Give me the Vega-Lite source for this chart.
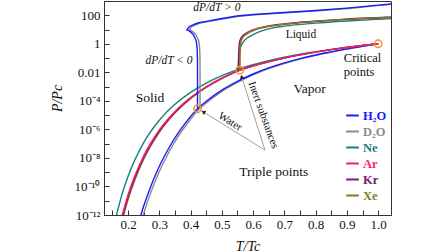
{
  "$schema": "https://vega.github.io/schema/vega-lite/v6.json",
  "width": 287,
  "height": 214,
  "autosize": {"type": "none"},
  "padding": {"left": 104, "top": 1, "right": 57, "bottom": 37},
  "background": "white",
  "config": {
    "font": "Liberation Serif, Times New Roman, serif",
    "view": {"stroke": "#333", "strokeWidth": 1},
    "axis": {"labelFont": "Liberation Serif, Times New Roman, serif", "titleFont": "Liberation Serif, Times New Roman, serif", "labelFontSize": 13, "titleFontSize": 14, "titleFontWeight": "normal", "labelColor": "#111", "titleColor": "#111", "domainColor": "#333", "tickColor": "#333", "grid": false, "labelOverlap": false, "labelBound": false, "labelFlush": false},
    "text": {"font": "Liberation Serif, Times New Roman, serif"}
  },
  "datasets": {
    "sv": [
      {"s":"D₂O","T":0.243,"P":4.03e-13},{"s":"D₂O","T":0.26,"P":6.15e-12},{"s":"D₂O","T":0.28,"P":9.95e-11},{"s":"D₂O","T":0.3,"P":1.11e-9},{"s":"D₂O","T":0.33,"P":2.39e-8},{"s":"D₂O","T":0.36,"P":3.08e-7},{"s":"D₂O","T":0.39,"P":2.69e-6},{"s":"D₂O","T":0.4302,"P":3.05e-5},{"s":"D₂O","T":0.45,"P":7.08e-5},{"s":"D₂O","T":0.5,"P":4.68e-4},{"s":"D₂O","T":0.55,"P":2.0e-3},{"s":"D₂O","T":0.6,"P":6.76e-3},{"s":"D₂O","T":0.65,"P":0.0182},{"s":"D₂O","T":0.7,"P":0.0417},{"s":"D₂O","T":0.75,"P":0.0851},{"s":"D₂O","T":0.8,"P":0.157},{"s":"D₂O","T":0.85,"P":0.266},{"s":"D₂O","T":0.9,"P":0.427},{"s":"D₂O","T":0.95,"P":0.656},{"s":"D₂O","T":1.0,"P":1},
      {"s":"H₂O","T":0.236,"P":4.31e-13},{"s":"H₂O","T":0.25,"P":4.23e-12},{"s":"H₂O","T":0.27,"P":7.31e-11},{"s":"H₂O","T":0.3,"P":2.59e-9},{"s":"H₂O","T":0.33,"P":4.78e-8},{"s":"H₂O","T":0.36,"P":5.43e-7},{"s":"H₂O","T":0.39,"P":4.25e-6},{"s":"H₂O","T":0.4221,"P":2.77e-5},{"s":"H₂O","T":0.45,"P":9.33e-5},{"s":"H₂O","T":0.5,"P":5.71e-4},{"s":"H₂O","T":0.55,"P":2.37e-3},{"s":"H₂O","T":0.6,"P":7.66e-3},{"s":"H₂O","T":0.65,"P":0.0203},{"s":"H₂O","T":0.7,"P":0.0455},{"s":"H₂O","T":0.75,"P":0.0906},{"s":"H₂O","T":0.8,"P":0.164},{"s":"H₂O","T":0.85,"P":0.272},{"s":"H₂O","T":0.9,"P":0.437},{"s":"H₂O","T":0.95,"P":0.663},{"s":"H₂O","T":1.0,"P":1},
      {"s":"Ne","T":0.16,"P":5.36e-13},{"s":"Ne","T":0.18,"P":2.5e-11},{"s":"Ne","T":0.2,"P":5.2e-10},{"s":"Ne","T":0.25,"P":1.2e-7},{"s":"Ne","T":0.3,"P":4.4e-6},{"s":"Ne","T":0.35,"P":5.7e-5},{"s":"Ne","T":0.4,"P":3.9e-4},{"s":"Ne","T":0.45,"P":1.75e-3},{"s":"Ne","T":0.5,"P":5.8e-3},{"s":"Ne","T":0.552,"P":0.0162},{"s":"Ne","T":0.6,"P":0.0338},{"s":"Ne","T":0.65,"P":0.0649},{"s":"Ne","T":0.7,"P":0.1135},{"s":"Ne","T":0.75,"P":0.184},{"s":"Ne","T":0.8,"P":0.281},{"s":"Ne","T":0.85,"P":0.408},{"s":"Ne","T":0.9,"P":0.569},{"s":"Ne","T":0.95,"P":0.766},{"s":"Ne","T":1.0,"P":1},
      {"s":"Xe","T":0.183,"P":5.78e-13},{"s":"Xe","T":0.2,"P":1.19e-11},{"s":"Xe","T":0.25,"P":8.07e-9},{"s":"Xe","T":0.3,"P":6.21e-7},{"s":"Xe","T":0.35,"P":1.38e-5},{"s":"Xe","T":0.4,"P":1.42e-4},{"s":"Xe","T":0.45,"P":8.67e-4},{"s":"Xe","T":0.5,"P":3.69e-3},{"s":"Xe","T":0.557,"P":0.014},{"s":"Xe","T":0.6,"P":0.0279},{"s":"Xe","T":0.65,"P":0.0556},{"s":"Xe","T":0.7,"P":0.1},{"s":"Xe","T":0.75,"P":0.167},{"s":"Xe","T":0.8,"P":0.261},{"s":"Xe","T":0.85,"P":0.388},{"s":"Xe","T":0.9,"P":0.551},{"s":"Xe","T":0.95,"P":0.753},{"s":"Xe","T":1.0,"P":1},
      {"s":"Kr","T":0.18,"P":5.09e-13},{"s":"Kr","T":0.2,"P":1.78e-11},{"s":"Kr","T":0.25,"P":1.07e-8},{"s":"Kr","T":0.3,"P":7.66e-7},{"s":"Kr","T":0.35,"P":1.61e-5},{"s":"Kr","T":0.4,"P":1.59e-4},{"s":"Kr","T":0.45,"P":9.4e-4},{"s":"Kr","T":0.5,"P":3.9e-3},{"s":"Kr","T":0.553,"P":0.0133},{"s":"Kr","T":0.6,"P":0.0284},{"s":"Kr","T":0.65,"P":0.0562},{"s":"Kr","T":0.7,"P":0.101},{"s":"Kr","T":0.75,"P":0.168},{"s":"Kr","T":0.8,"P":0.263},{"s":"Kr","T":0.85,"P":0.389},{"s":"Kr","T":0.9,"P":0.552},{"s":"Kr","T":0.95,"P":0.755},{"s":"Kr","T":1.0,"P":1},
      {"s":"Ar","T":0.178,"P":5.58e-13},{"s":"Ar","T":0.2,"P":2.69e-11},{"s":"Ar","T":0.25,"P":1.42e-8},{"s":"Ar","T":0.3,"P":9.25e-7},{"s":"Ar","T":0.35,"P":1.83e-5},{"s":"Ar","T":0.4,"P":1.71e-4},{"s":"Ar","T":0.45,"P":9.77e-4},{"s":"Ar","T":0.5,"P":3.94e-3},{"s":"Ar","T":0.557,"P":0.0142},{"s":"Ar","T":0.6,"P":0.0282},{"s":"Ar","T":0.65,"P":0.0561},{"s":"Ar","T":0.7,"P":0.101},{"s":"Ar","T":0.75,"P":0.168},{"s":"Ar","T":0.8,"P":0.262},{"s":"Ar","T":0.85,"P":0.389},{"s":"Ar","T":0.9,"P":0.552},{"s":"Ar","T":0.95,"P":0.755},{"s":"Ar","T":1.0,"P":1}
    ],
    "mw": [
      {"s":"D₂O","i":0,"T":0.4302,"P":3.05e-5},{"s":"D₂O","i":1,"T":0.4302,"P":0.01},{"s":"D₂O","i":2,"T":0.43,"P":0.1},{"s":"D₂O","i":3,"T":0.4289,"P":0.5},{"s":"D₂O","i":4,"T":0.4263,"P":1.5},{"s":"D₂O","i":5,"T":0.4232,"P":2.27},{"s":"D₂O","i":6,"T":0.4162,"P":4.53},{"s":"D₂O","i":7,"T":0.4079,"P":6.8},{"s":"D₂O","i":8,"T":0.399,"P":9.06},{"s":"D₂O","i":9,"T":0.3957,"P":9.6},{"s":"D₂O","i":10,"T":0.4035,"P":15.9},{"s":"D₂O","i":11,"T":0.417,"P":21.7},{"s":"D₂O","i":12,"T":0.43,"P":28.7},{"s":"D₂O","i":13,"T":0.456,"P":35.5},{"s":"D₂O","i":14,"T":0.506,"P":56},{"s":"D₂O","i":15,"T":0.555,"P":85},{"s":"D₂O","i":16,"T":0.606,"P":107},{"s":"D₂O","i":17,"T":0.706,"P":148},{"s":"D₂O","i":18,"T":0.806,"P":204},{"s":"D₂O","i":19,"T":0.906,"P":301},{"s":"D₂O","i":20,"T":1.006,"P":490},{"s":"D₂O","i":21,"T":1.05,"P":600},
      {"s":"H₂O","i":0,"T":0.4221,"P":2.77e-5},{"s":"H₂O","i":1,"T":0.4221,"P":0.01},{"s":"H₂O","i":2,"T":0.4219,"P":0.1},{"s":"H₂O","i":3,"T":0.4208,"P":0.5},{"s":"H₂O","i":4,"T":0.4183,"P":1.5},{"s":"H₂O","i":5,"T":0.4152,"P":2.27},{"s":"H₂O","i":6,"T":0.4083,"P":4.53},{"s":"H₂O","i":7,"T":0.4001,"P":6.8},{"s":"H₂O","i":8,"T":0.3913,"P":9.06},{"s":"H₂O","i":9,"T":0.3881,"P":9.51},{"s":"H₂O","i":10,"T":0.3959,"P":15.87},{"s":"H₂O","i":11,"T":0.4095,"P":21.7},{"s":"H₂O","i":12,"T":0.4224,"P":28.7},{"s":"H₂O","i":13,"T":0.45,"P":37.2},{"s":"H₂O","i":14,"T":0.5,"P":58.9},{"s":"H₂O","i":15,"T":0.5486,"P":89.1},{"s":"H₂O","i":16,"T":0.6,"P":112},{"s":"H₂O","i":17,"T":0.7,"P":155},{"s":"H₂O","i":18,"T":0.8,"P":214},{"s":"H₂O","i":19,"T":0.9,"P":316},{"s":"H₂O","i":20,"T":1.0,"P":513},{"s":"H₂O","i":21,"T":1.045,"P":631}
    ],
    "mn": [
      {"s":"Ne","T":0.552,"P":0.0162},{"s":"Ne","T":0.554,"P":0.126},{"s":"Ne","T":0.558,"P":0.447},{"s":"Ne","T":0.565,"P":1.0},{"s":"Ne","T":0.575,"P":2.0},{"s":"Ne","T":0.59,"P":3.31},{"s":"Ne","T":0.61,"P":5.62},{"s":"Ne","T":0.63,"P":8.32},{"s":"Ne","T":0.66,"P":12.6},{"s":"Ne","T":0.7,"P":17.4},{"s":"Ne","T":0.8,"P":28.2},{"s":"Ne","T":0.9,"P":39.8},{"s":"Ne","T":1.0,"P":52.5},{"s":"Ne","T":1.045,"P":58.9},
      {"s":"Ar","T":0.557,"P":0.0142},{"s":"Ar","T":0.5575,"P":0.126},{"s":"Ar","T":0.5585,"P":0.501},{"s":"Ar","T":0.561,"P":1.41},{"s":"Ar","T":0.567,"P":2.82},{"s":"Ar","T":0.58,"P":5.01},{"s":"Ar","T":0.6,"P":8.51},{"s":"Ar","T":0.62,"P":12.0},{"s":"Ar","T":0.65,"P":16.6},{"s":"Ar","T":0.7,"P":23.4},{"s":"Ar","T":0.8,"P":36.3},{"s":"Ar","T":0.9,"P":51.3},{"s":"Ar","T":1.0,"P":64.6},{"s":"Ar","T":1.045,"P":70.8},
      {"s":"Kr","T":0.553,"P":0.0133},{"s":"Kr","T":0.5535,"P":0.13},{"s":"Kr","T":0.5545,"P":0.52},{"s":"Kr","T":0.557,"P":1.48},{"s":"Kr","T":0.563,"P":2.95},{"s":"Kr","T":0.576,"P":5.25},{"s":"Kr","T":0.596,"P":8.9},{"s":"Kr","T":0.616,"P":12.6},{"s":"Kr","T":0.646,"P":17.4},{"s":"Kr","T":0.696,"P":24.5},{"s":"Kr","T":0.796,"P":38},{"s":"Kr","T":0.896,"P":53.7},{"s":"Kr","T":0.996,"P":67.6},{"s":"Kr","T":1.045,"P":75},
      {"s":"Xe","T":0.557,"P":0.014},{"s":"Xe","T":0.5575,"P":0.13},{"s":"Xe","T":0.5585,"P":0.51},{"s":"Xe","T":0.561,"P":1.45},{"s":"Xe","T":0.567,"P":2.9},{"s":"Xe","T":0.58,"P":5.15},{"s":"Xe","T":0.6,"P":8.7},{"s":"Xe","T":0.62,"P":12.3},{"s":"Xe","T":0.65,"P":17},{"s":"Xe","T":0.7,"P":24},{"s":"Xe","T":0.8,"P":37.2},{"s":"Xe","T":0.9,"P":52.5},{"s":"Xe","T":1.0,"P":66},{"s":"Xe","T":1.045,"P":72.5}
    ]
  },
  "encoding": {
    "x": {"field": "T", "type": "quantitative", "scale": {"domain": [0.123, 1.041], "nice": false, "zero": false},
      "axis": {"title": "T/Tc", "titleFontStyle": "italic", "values": [0.15,0.2,0.25,0.3,0.35,0.4,0.45,0.5,0.55,0.6,0.65,0.7,0.75,0.8,0.85,0.9,0.95,1.0],
        "labelExpr": "abs(datum.value*10-round(datum.value*10))<0.001 ? format(datum.value,'.1f') : ''", "tickSize": -5, "labelPadding": 8, "titlePadding": 8}},
    "y": {"field": "P", "type": "quantitative", "scale": {"type": "log", "domain": [1e-12, 1000], "nice": false},
      "axis": {"title": "P/Pc", "titleFontStyle": "italic", "values": [1e-12,1e-11,1e-10,1e-9,1e-8,1e-7,1e-6,1e-5,1e-4,1e-3,0.01,0.1,1,10,100,1000],
        "labelExpr": "['10⁻¹²','','10⁻¹⁰','','10⁻⁸','','10⁻⁶','','10⁻⁴','','0.01','','1','','100',''][round(log(datum.value)/LN10)+12]", "tickSize": -5, "labelPadding": 9, "titleX": -40, "titleY": 97}}
  },
  "layer": [
    {
      "data": {"name": "sv"},
      "mark": {"type": "line", "interpolate": "monotone", "strokeWidth": 1.4, "clip": true},
      "encoding": {
        "color": {"field": "s", "type": "nominal",
          "scale": {"domain": ["H₂O","D₂O","Ne","Ar","Kr","Xe"], "range": ["#1a1aff","#8a8a8a","#1a7f7f","#ff1a6e","#7a1a7a","#7f7f1a"]},
          "legend": {"title": null, "orient": "none", "legendX": 241, "legendY": 107, "symbolType": "stroke", "symbolSize": 160, "symbolStrokeWidth": 2, "labelFontSize": 12.5, "labelFontWeight": "bold", "labelFont": "Liberation Serif, Times New Roman, serif", "rowPadding": 2, "labelOffset": 3, "padding": 0,
            "encode": {"labels": {"update": {"fill": {"scale": "color", "field": "value"}}}}}}
      }
    },
    {
      "data": {"name": "mw"},
      "mark": {"type": "line", "interpolate": "linear", "strokeWidth": 1.4, "clip": true},
      "encoding": {"color": {"field": "s", "type": "nominal"}, "order": {"field": "i", "type": "quantitative"}}
    },
    {
      "data": {"name": "mn"},
      "mark": {"type": "line", "interpolate": "monotone", "strokeWidth": 1.4, "clip": true},
      "encoding": {"color": {"field": "s", "type": "nominal"}}
    },
    {
      "data": {"values": [{"T": 0.638, "P": 3.5e-8, "T2": 0.4406, "P2": 1.7e-5}, {"T": 0.638, "P": 3.5e-8, "T2": 0.5633, "P2": 4.8e-3}]},
      "mark": {"type": "rule", "color": "#a0a0a0", "strokeWidth": 1},
      "encoding": {"x2": {"field": "T2"}, "y2": {"field": "P2"}}
    },
    {
      "data": {"values": [{"T": 0.4406, "P": 1.7e-5}]},
      "mark": {"type": "point", "shape": "triangle-up", "filled": true, "color": "#222", "size": 22, "angle": 301.5, "opacity": 1},
      "encoding": {}
    },
    {
      "data": {"values": [{"T": 0.5633, "P": 4.8e-3}]},
      "mark": {"type": "point", "shape": "triangle-up", "filled": true, "color": "#222", "size": 22, "angle": 342.4, "opacity": 1},
      "encoding": {}
    },
    {
      "data": {"values": [{"T": 0.4221, "P": 2.77e-5}, {"T": 0.557, "P": 0.0142}, {"T": 1.0, "P": 1}]},
      "mark": {"type": "point", "shape": "circle", "filled": false, "color": "#f7941d", "strokeWidth": 1.5, "size": 55, "opacity": 1},
      "encoding": {}
    },
    {
      "data": {"values": [{"t": "Solid", "T": 0.27, "P": 1.55e-4}, {"t": "Vapor", "T": 0.781, "P": 6.6e-4}, {"t": "Triple points", "T": 0.666, "P": 1.07e-9}]},
      "mark": {"type": "text", "fontSize": 13.5, "color": "#111", "align": "center", "baseline": "middle"},
      "encoding": {"text": {"field": "t"}}
    },
    {
      "data": {"values": [{"t": "Critical", "T": 0.89, "P": 0.279}]},
      "mark": {"type": "text", "fontSize": 12.5, "color": "#111", "align": "left", "baseline": "top"},
      "encoding": {"text": {"field": "t"}}
    },
    {
      "data": {"values": [{"t": "points", "T": 0.89, "P": 0.0262}]},
      "mark": {"type": "text", "fontSize": 12.5, "color": "#111", "align": "left", "baseline": "top"},
      "encoding": {"text": {"field": "t"}}
    },
    {
      "data": {"values": [{"t": "Liquid", "T": 0.753, "P": 3.98}]},
      "mark": {"type": "text", "fontSize": 11.5, "color": "#111", "align": "center", "baseline": "middle"},
      "encoding": {"text": {"field": "t"}}
    },
    {
      "data": {"values": [{"t": "dP/dT > 0", "T": 0.484, "P": 310}, {"t": "dP/dT < 0", "T": 0.331, "P": 0.063}]},
      "mark": {"type": "text", "fontSize": 11.5, "fontStyle": "italic", "color": "#111", "align": "center", "baseline": "middle"},
      "encoding": {"text": {"field": "t"}}
    },
    {
      "data": {"values": [{"t": "Water", "T": 0.526, "P": 3.4e-6}]},
      "mark": {"type": "text", "fontSize": 11, "color": "#111", "align": "center", "baseline": "middle", "angle": 32},
      "encoding": {"text": {"field": "t"}}
    },
    {
      "data": {"values": [{"t": "Inert substances", "T": 0.632, "P": 1.0e-5}]},
      "mark": {"type": "text", "fontSize": 11, "color": "#111", "align": "center", "baseline": "middle", "angle": 70},
      "encoding": {"text": {"field": "t"}}
    }
  ]
}
